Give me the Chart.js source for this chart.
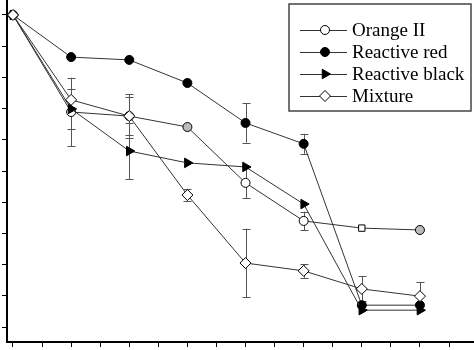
<!DOCTYPE html>
<html lang="en">
<head>
  <meta charset="UTF-8" />
  <title>Decolorization curves</title>
  <script src="https://cdn.jsdelivr.net/npm/chart.js"></script>
  <style>
    html, body { margin: 0; padding: 0; background: #fff; }
    #wrap { width: 474px; height: 350px; }
  </style>
</head>
<body>
  <div id="wrap"><canvas id="c" width="474" height="350"></canvas></div>

  <script>
    // values (C/C0 at each sampling step)
    const steps = [0, 1, 2, 3, 4, 5, 6, 7];
    const orange = [1.0, 0.689, 0.676, 0.641, 0.462, 0.340, 0.317, 0.311];
    const red = [1.0, 0.865, 0.856, 0.782, 0.654, 0.587, 0.070, 0.070];
    const black = [1.0, 0.699, 0.564, 0.526, 0.513, 0.394, 0.054, 0.054];
    const mixture = [1.0, 0.728, 0.676, 0.423, 0.205, 0.180, 0.122, 0.099];

    // error bar half-widths (0 = none)
    const orangeErr = [0, 0.11, 0.07, 0, 0.05, 0.03, 0, 0];
    const redErr = [0, 0, 0, 0, 0.063, 0.032, 0, 0];
    const blackErr = [0, 0.064, 0.09, 0, 0, 0, 0, 0];
    const mixtureErr = [0, 0, 0.06, 0.02, 0.11, 0.022, 0.04, 0.045];

    const yTicks = [0, 0.1, 0.2, 0.3, 0.4, 0.5, 0.6, 0.7, 0.8, 0.9, 1.0];
    const xTicks = [0, 0.5, 1, 1.5, 2, 2.5, 3, 3.5, 4, 4.5, 5, 5.5, 6, 6.5, 7, 7.5];

    const pts = arr => arr.map((v, i) => ({ x: steps[i], y: v }));

    const lineCol = '#333';

    const datasets = [
      {
        label: 'Orange II', data: pts(orange), err: orangeErr,
        pointStyle: ['circle', 'circle', 'circle', 'circle', 'circle', 'circle', 'rect', 'circle'],
        pointBackgroundColor: ['#fff', '#fff', '#fff', '#bbb', '#fff', '#fff', '#fff', '#bbb'],
        legendStyle: 'circle', legendFill: '#fff', pointRadius: 4.5, order: 2
      },
      {
        label: 'Reactive red', data: pts(red), err: redErr,
        pointStyle: 'circle', pointBackgroundColor: '#000',
        legendStyle: 'circle', legendFill: '#000', pointRadius: 4.5, order: 1
      },
      {
        label: 'Reactive black', data: pts(black), err: blackErr,
        pointStyle: 'triangle', pointRotation: 90, pointBackgroundColor: '#000',
        legendStyle: 'triangle', legendRot: 90, legendFill: '#000', pointRadius: 5.5, order: 0
      },
      {
        label: 'Mixture', data: pts(mixture), err: mixtureErr,
        pointStyle: 'rectRot', pointBackgroundColor: '#fff',
        legendStyle: 'rectRot', legendFill: '#fff', pointRadius: 5.5, order: -1
      }
    ];
    datasets.forEach(d => {
      d.borderColor = lineCol;
      d.borderWidth = 1;
      d.pointBorderColor = '#000';
      d.pointBorderWidth = 1;
      d.tension = 0;
      d.fill = false;
    });

    const errorBars = {
      id: 'errorBars',
      beforeDatasetsDraw(chart) {
        const { ctx, scales: { x, y } } = chart;
        ctx.save();
        ctx.strokeStyle = '#555';
        ctx.lineWidth = 1;
        chart.data.datasets.forEach(ds => {
          ds.data.forEach((p, i) => {
            const e = ds.err[i];
            if (!e) return;
            const px = Math.round(x.getPixelForValue(p.x)) + 0.5;
            const top = y.getPixelForValue(p.y + e);
            const bot = y.getPixelForValue(p.y - e);
            ctx.beginPath();
            ctx.moveTo(px, top); ctx.lineTo(px, bot);
            ctx.moveTo(px - 4, Math.round(top) + 0.5); ctx.lineTo(px + 4, Math.round(top) + 0.5);
            ctx.moveTo(px - 4, Math.round(bot) + 0.5); ctx.lineTo(px + 4, Math.round(bot) + 0.5);
            ctx.stroke();
          });
        });
        ctx.restore();
      }
    };

    const boxLegend = {
      id: 'boxLegend',
      afterDraw(chart) {
        const ctx = chart.ctx;
        ctx.save();
        ctx.strokeStyle = '#444';
        ctx.lineWidth = 1.5;
        ctx.strokeRect(289, 4, 182, 107);
        ctx.font = '19px "Liberation Serif", "Times New Roman", serif';
        ctx.textBaseline = 'middle';
        const rowY = [30, 52, 74, 96];
        chart.data.datasets.forEach((ds, i) => {
          const yy = rowY[i];
          ctx.strokeStyle = lineCol;
          ctx.lineWidth = 1;
          ctx.beginPath();
          ctx.moveTo(300, yy + 0.5); ctx.lineTo(347, yy + 0.5);
          ctx.stroke();
          ctx.strokeStyle = '#000';
          ctx.fillStyle = ds.legendFill;
          Chart.helpers.drawPoint(ctx, {
            pointStyle: ds.legendStyle, rotation: ds.legendRot || 0,
            radius: ds.pointRadius, borderWidth: 1
          }, 325, yy);
          ctx.fillStyle = '#000';
          ctx.fillText(ds.label, 352, yy + 1);
        });
        ctx.restore();
      }
    };

    const axisLook = {
      display: true,
      drawOnChartArea: false,
      drawTicks: true,
      tickLength: 5,
      color: '#000',
      lineWidth: 1
    };

    new Chart(document.getElementById('c'), {
      type: 'line',
      data: { datasets: datasets },
      options: {
        responsive: false,
        animation: false,
        layout: { padding: 0, autoPadding: false },
        plugins: { legend: { display: false }, tooltip: { enabled: false } },
        scales: {
          x: {
            type: 'linear',
            min: -0.103,
            max: 7.93,
            grid: axisLook,
            border: { display: true, color: '#000', width: 2 },
            ticks: { display: false },
            afterBuildTicks: s => { s.ticks = xTicks.map(v => ({ value: v })); },
            afterFit: s => { s.height = 8; }
          },
          y: {
            min: -0.048,
            max: 1.048,
            grid: axisLook,
            border: { display: true, color: '#000', width: 2 },
            ticks: { display: false },
            afterBuildTicks: s => { s.ticks = yTicks.map(v => ({ value: v })); },
            afterFit: s => { s.width = 7; }
          }
        }
      },
      plugins: [errorBars, boxLegend]
    });
  </script>
</body>
</html>
